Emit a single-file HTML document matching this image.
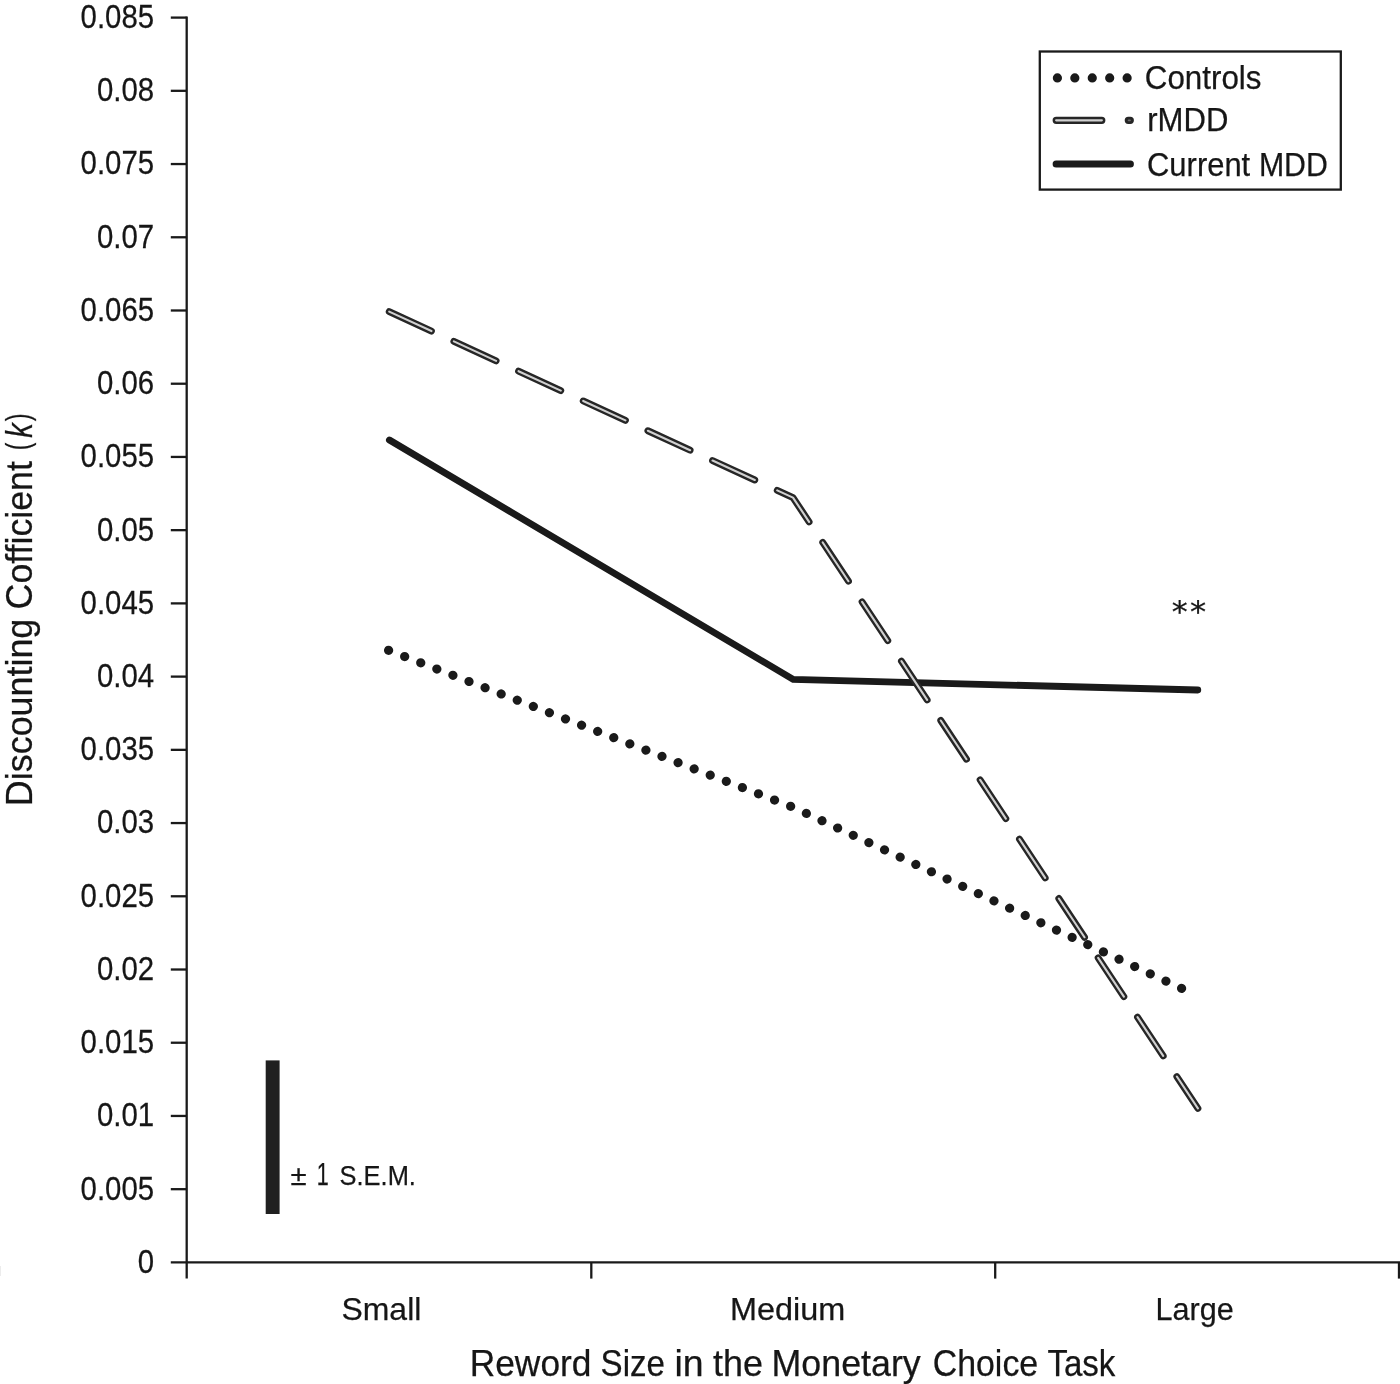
<!DOCTYPE html>
<html lang="en"><head><meta charset="utf-8"><title>Discounting Coefficient by Reward Size</title>
<style>
html,body{margin:0;padding:0;background:#fff;}
body{width:1400px;height:1384px;overflow:hidden;}
svg{display:block;}
text{font-family:"Liberation Sans",sans-serif;fill:#161616;stroke:#161616;stroke-width:0.25px;white-space:pre;}
</style></head><body>
<svg width="1400" height="1384" viewBox="0 0 1400 1384">
<rect x="0" y="0" width="1400" height="1384" fill="#ffffff"/>

<g stroke="#1a1a1a" stroke-width="2.3" fill="none" stroke-linecap="butt">
<path d="M186.7 16.400000000000002 V1278.6"/>
<path d="M170.8 1262.4 H1400"/>
<path d="M170.8 1189.18 H186.7"/>
<path d="M170.8 1115.95 H186.7"/>
<path d="M170.8 1042.73 H186.7"/>
<path d="M170.8 969.51 H186.7"/>
<path d="M170.8 896.28 H186.7"/>
<path d="M170.8 823.06 H186.7"/>
<path d="M170.8 749.84 H186.7"/>
<path d="M170.8 676.61 H186.7"/>
<path d="M170.8 603.39 H186.7"/>
<path d="M170.8 530.16 H186.7"/>
<path d="M170.8 456.94 H186.7"/>
<path d="M170.8 383.72 H186.7"/>
<path d="M170.8 310.49 H186.7"/>
<path d="M170.8 237.27 H186.7"/>
<path d="M170.8 164.05 H186.7"/>
<path d="M170.8 90.82 H186.7"/>
<path d="M170.8 17.60 H186.7"/>
<path d="M591.3 1262.4 V1278.6"/>
<path d="M995.2 1262.4 V1278.6"/>
<path d="M1399.0 1262.4 V1278.6"/>
</g>
<g font-size="33.2" text-anchor="end">
<text transform="translate(154.2 1272.80) scale(0.886 1)">0</text>
<text transform="translate(154.2 1199.58) scale(0.886 1)">0.005</text>
<text transform="translate(154.2 1126.35) scale(0.886 1)">0.01</text>
<text transform="translate(154.2 1053.13) scale(0.886 1)">0.015</text>
<text transform="translate(154.2 979.91) scale(0.886 1)">0.02</text>
<text transform="translate(154.2 906.68) scale(0.886 1)">0.025</text>
<text transform="translate(154.2 833.46) scale(0.886 1)">0.03</text>
<text transform="translate(154.2 760.24) scale(0.886 1)">0.035</text>
<text transform="translate(154.2 687.01) scale(0.886 1)">0.04</text>
<text transform="translate(154.2 613.79) scale(0.886 1)">0.045</text>
<text transform="translate(154.2 540.56) scale(0.886 1)">0.05</text>
<text transform="translate(154.2 467.34) scale(0.886 1)">0.055</text>
<text transform="translate(154.2 394.12) scale(0.886 1)">0.06</text>
<text transform="translate(154.2 320.89) scale(0.886 1)">0.065</text>
<text transform="translate(154.2 247.67) scale(0.886 1)">0.07</text>
<text transform="translate(154.2 174.45) scale(0.886 1)">0.075</text>
<text transform="translate(154.2 101.22) scale(0.886 1)">0.08</text>
<text transform="translate(154.2 28.00) scale(0.886 1)">0.085</text>
</g>
<text font-size="32" y="1320.2"><tspan x="341.45" textLength="79.89" lengthAdjust="spacingAndGlyphs">Small</tspan></text>
<text font-size="32" y="1320.2"><tspan x="729.94" textLength="115.30" lengthAdjust="spacingAndGlyphs">Medium</tspan></text>
<text font-size="32" y="1320.2"><tspan x="1155.59" textLength="78.27" lengthAdjust="spacingAndGlyphs">Large</tspan></text>
<text font-size="36.4" y="1375.5"><tspan x="469.70" textLength="121.78" lengthAdjust="spacingAndGlyphs">Reword</tspan> <tspan x="600.60" textLength="64.37" lengthAdjust="spacingAndGlyphs">Size</tspan> <tspan x="674.40" textLength="29.14" lengthAdjust="spacingAndGlyphs">in</tspan> <tspan x="713.06" textLength="49.94" lengthAdjust="spacingAndGlyphs">the</tspan> <tspan x="771.56" textLength="149.21" lengthAdjust="spacingAndGlyphs">Monetary</tspan> <tspan x="932.68" textLength="105.53" lengthAdjust="spacingAndGlyphs">Choice</tspan> <tspan x="1047.40" textLength="67.96" lengthAdjust="spacingAndGlyphs">Task</tspan></text>
<text font-size="37.5" y="0" transform="translate(32.3 0) rotate(-90)"><tspan x="-806.14" textLength="187.46" lengthAdjust="spacingAndGlyphs">Discounting</tspan> <tspan x="-609.41" textLength="148.27" lengthAdjust="spacingAndGlyphs">Cofficient</tspan> <tspan x="-450.23" textLength="7.66" lengthAdjust="spacingAndGlyphs" y="-3.6" font-size="32.7">(</tspan><tspan x="-437.78" textLength="14.56" lengthAdjust="spacingAndGlyphs" y="0" font-style="italic">k</tspan><tspan x="-421.34" textLength="7.79" lengthAdjust="spacingAndGlyphs" y="-3.6" font-size="32.7">)</tspan></text>
<rect x="265.7" y="1060.4" width="13.9" height="153.6" fill="#202020"/>
<text font-size="27" y="1185"><tspan x="290.47" textLength="16.15" lengthAdjust="spacingAndGlyphs">±</tspan> <tspan x="316.66" textLength="12.00" lengthAdjust="spacingAndGlyphs" font-size="31">1</tspan> <tspan x="339.54" textLength="76.38" lengthAdjust="spacingAndGlyphs" font-size="27">S.E.M.</tspan></text>
<text font-size="30" y="621.7" style="font-family:'DejaVu Sans','Liberation Sans',sans-serif"><tspan x="1171.75" textLength="15.89" lengthAdjust="spacingAndGlyphs">*</tspan><tspan x="1190.04" textLength="16.12" lengthAdjust="spacingAndGlyphs">*</tspan></text>
<path d="M388.6 650.3 L793 807.2 L1181.6 988.4" fill="none" stroke="#1a1a1a" stroke-width="9.2" stroke-linecap="round" stroke-linejoin="round" stroke-dasharray="0.01 17.24"/>
<path d="M389.4 440 L793.2 679.4 L1197.8 690" fill="none" stroke="#1a1a1a" stroke-width="6.8" stroke-linecap="round" stroke-linejoin="miter"/>
<path d="M389.2 311.6 L793.0 497.6 L1197.9 1108.3" fill="none" stroke="#262626" stroke-width="6.9" stroke-linecap="round" stroke-linejoin="round" stroke-dasharray="46.5 24.7"/>
<path d="M389.2 311.6 L793.0 497.6 L1197.9 1108.3" fill="none" stroke="#d0d0d0" stroke-width="2.1" stroke-linecap="round" stroke-linejoin="round" stroke-dasharray="46.5 24.7"/>
<rect x="1039.8" y="51.5" width="301" height="138.1" fill="#fff" stroke="#1a1a1a" stroke-width="2.3"/>
<path d="M1057.4 77.9 H1127.2" fill="none" stroke="#1a1a1a" stroke-width="9.2" stroke-linecap="round" stroke-dasharray="0.01 17.42"/>
<path d="M1056.2 120.3 H1101.8 M1128.3 120.3 H1130.3" fill="none" stroke="#262626" stroke-width="7.2" stroke-linecap="round"/>
<path d="M1056.2 120.3 H1101.8" fill="none" stroke="#d0d0d0" stroke-width="2.3" stroke-linecap="round"/>
<path d="M1128.6 120.3 H1130.0" fill="none" stroke="#6a6a6a" stroke-width="1.8" stroke-linecap="round"/>
<path d="M1056.1 163.9 H1130.4" fill="none" stroke="#1a1a1a" stroke-width="7" stroke-linecap="round"/>
<text font-size="33" y="88.6"><tspan x="1144.81" textLength="116.62" lengthAdjust="spacingAndGlyphs">Controls</tspan></text>
<text font-size="33" y="130.8"><tspan x="1147.24" textLength="81.15" lengthAdjust="spacingAndGlyphs">rMDD</tspan></text>
<text font-size="33" y="175.6"><tspan x="1147.03" textLength="103.20" lengthAdjust="spacingAndGlyphs">Current</tspan> <tspan x="1258.92" textLength="68.93" lengthAdjust="spacingAndGlyphs">MDD</tspan></text>
<rect x="0" y="1266" width="1" height="10" fill="#ececec"/>
</svg></body></html>
